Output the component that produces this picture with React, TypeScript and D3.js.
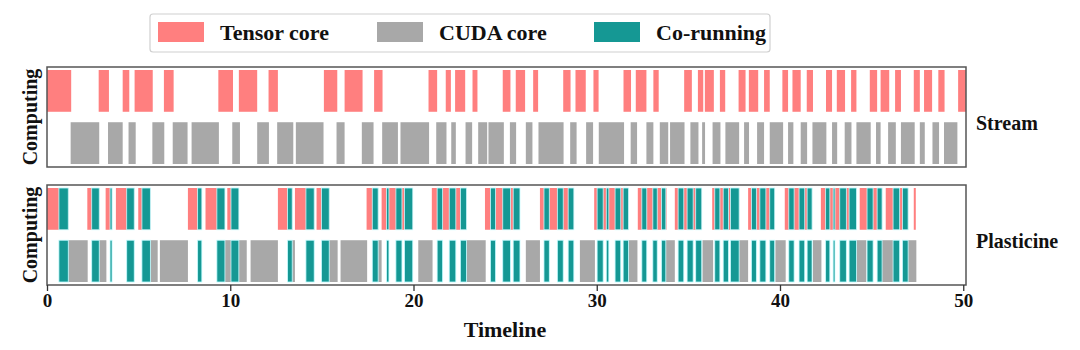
import { useEffect, useRef } from "react";
import * as d3 from "d3";

// interval data: [start, end] on the timeline
const streamTensor = [
  [0, 1.32], [2.82, 3.38], [4.13, 4.49], [4.78, 5.77], [6.38, 6.91], [9.35, 10.15], [10.47, 11.47],
  [12.09, 12.6], [15.11, 15.84], [16.24, 17.22], [17.85, 18.31], [20.82, 21.29], [21.76, 22.04],
  [22.27, 22.82], [23.22, 23.49], [24.87, 25.29], [25.58, 26.09], [26.53, 26.8], [28.17, 28.57],
  [28.84, 29.4], [29.82, 30.1], [31.46, 31.87], [32.13, 32.71], [33.09, 33.38], [34.77, 35.19],
  [35.52, 35.81], [35.9, 36.39], [36.72, 37.01], [37.74, 38.12], [38.3, 38.81], [39.13, 39.44],
  [40.13, 40.44], [40.68, 41.13], [41.46, 41.8], [42.51, 42.84], [43.1, 43.55], [43.88, 44.17],
  [44.9, 45.3], [45.49, 45.96], [46.28, 46.6], [47.3, 47.63], [47.86, 48.3], [48.64, 48.98], [49.72, 50.15],
];

const streamCuda = [
  [1.29, 2.85], [3.33, 4.13], [4.45, 4.84], [5.75, 6.4], [6.86, 7.67], [7.89, 9.38], [10.11, 10.53],
  [11.47, 12.11], [12.56, 13.44], [13.58, 15.09], [15.8, 16.24], [17.18, 17.82], [18.29, 19.15],
  [19.29, 20.85], [21.24, 21.8], [22.06, 22.31], [22.84, 23.2], [23.53, 24.02], [24.09, 24.93],
  [25.26, 25.6], [26.13, 26.49], [26.82, 28.19], [28.55, 28.9], [29.42, 29.8], [30.11, 31.49],
  [31.85, 32.2], [32.71, 33.09], [33.44, 33.9], [34.0, 34.79], [35.11, 35.55], [35.75, 35.91],
  [36.32, 36.75], [37.02, 37.77], [38.04, 38.31], [38.75, 39.13], [39.44, 40.17], [40.44, 40.73],
  [41.13, 41.48], [41.77, 42.53], [42.84, 43.12], [43.53, 43.9], [44.17, 44.95], [45.24, 45.49],
  [45.9, 46.32], [46.6, 47.35], [47.63, 47.9], [48.32, 48.68], [48.95, 49.68],
];

const plasticineTensor = [
  [0, 1.16], [2.2, 2.85], [3.2, 3.55], [3.76, 4.76], [4.98, 5.64], [7.69, 8.45], [8.65, 9.71],
  [9.84, 10.47], [12.6, 13.38], [13.53, 14.58], [14.71, 15.4], [17.44, 18.07], [18.26, 19.96],
  [21.0, 22.89], [23.9, 25.81], [26.9, 28.75], [29.86, 31.73], [32.24, 33.81], [34.26, 35.73],
  [36.3, 37.77], [38.26, 39.71], [40.26, 41.75], [42.23, 44.17], [44.35, 45.57], [45.77, 46.99],
  [47.3, 47.41],
];

const plasticineCuda = [
  [1.16, 2.22], [2.85, 3.24], [5.64, 6.04], [6.16, 7.69], [9.71, 10.04], [10.47, 10.9], [11.11, 12.6],
  [13.38, 13.53], [15.4, 15.86], [16.02, 17.47], [18.07, 18.26], [20.26, 21.04], [22.89, 23.94],
  [26.13, 26.9], [29.08, 29.9], [31.73, 32.22], [33.77, 34.26], [35.77, 36.35], [37.77, 38.26],
  [39.75, 40.31], [41.8, 42.26], [44.17, 44.71], [45.57, 46.17], [46.99, 47.44],
];

const plasticineCo = [
  [0.65, 1.16], [2.44, 2.85], [3.44, 3.55], [4.35, 4.76], [5.18, 5.64], [8.22, 8.45], [9.27, 9.71],
  [10.04, 10.47], [13.13, 13.38], [14.13, 14.58], [14.98, 15.4], [17.75, 18.07], [18.53, 18.66],
  [19.04, 19.37], [19.51, 19.96], [21.29, 21.59], [21.95, 22.31], [22.56, 22.89], [24.2, 24.48],
  [24.87, 25.29], [25.44, 25.81], [27.12, 27.41], [27.85, 28.17], [28.44, 28.75], [30.02, 30.35],
  [30.52, 30.66], [31.0, 31.31], [31.44, 31.73], [32.46, 32.73], [33.06, 33.3], [33.53, 33.77],
  [34.44, 34.75], [34.93, 35.26], [35.4, 35.73], [36.44, 36.72], [36.9, 37.19], [37.3, 37.77],
  [38.44, 38.71], [38.9, 39.23], [39.44, 39.71], [40.48, 40.77], [41.04, 41.35], [41.48, 41.75],
  [42.49, 42.72], [42.9, 43.0], [43.26, 43.62], [43.77, 44.17], [44.75, 45.08], [45.3, 45.57],
  [46.17, 46.53], [46.68, 46.99],
];

const xTicks = [0, 10, 20, 30, 40, 50];
const rows = ["tensor", "cuda"];
const legendItems = ["Tensor core", "CUDA core", "Co-running"];

const RED = "#ff7f7f";
const GRAY = "#a8a8a8";
const TEAL = "#159894";
const FONT = "'Liberation Serif', 'Times New Roman', serif";

const panels = [
  { name: "Stream", top: 67, tensor: streamTensor, cuda: streamCuda, co: [] as number[][] },
  { name: "Plasticine", top: 185, tensor: plasticineTensor, cuda: plasticineCuda, co: plasticineCo },
];
const panelH = 100;

export default function App() {
  const axisRef = useRef<SVGGElement>(null);

  const x = d3.scaleLinear().domain([0, 50.15]).range([47, 966]);
  const y = d3.scaleBand().domain(rows).range([3, 97]).paddingInner(0.2);
  const legendColor = d3.scaleOrdinal<string>().domain(legendItems).range([RED, GRAY, TEAL]);

  useEffect(() => {
    const axis = d3.axisBottom(x).tickValues(xTicks).tickSize(6).tickPadding(3);
    const g = d3.select(axisRef.current);
    g.call(axis);
    g.select(".domain").remove();
    g.selectAll(".tick line").attr("stroke", "#333").attr("stroke-width", 1.3);
    g.selectAll(".tick text")
      .attr("font-family", FONT)
      .attr("font-weight", "bold")
      .attr("font-size", 19)
      .attr("fill", "#111");
  }, []);

  const bars = (data: number[][], row: string, color: string, key: string, stroke?: string) =>
    data.map((d, i) => (
      <rect
        key={key + i}
        x={x(d[0])}
        y={y(row)}
        width={Math.max(0.8, x(d[1]) - x(d[0]))}
        height={y.bandwidth()}
        fill={color}
        stroke={stroke || "none"}
        strokeWidth={stroke ? 0.8 : 0}
      />
    ));

  return (
    <svg
      width={1080}
      height={350}
      style={{ position: "absolute", left: 0, top: 0, background: "#fff" }}
      fontFamily={FONT}
    >
      {/* legend */}
      <rect x={150} y={14} width={620} height={38} rx={3} fill="#fff" stroke="#d0d0d0" strokeWidth={1.2} />
      {legendItems.map((name, i) => {
        const lx = [158, 377, 594][i];
        return (
          <g key={name}>
            <rect x={lx} y={22} width={46} height={20} fill={legendColor(name)} />
            <text x={lx + 62} y={39.5} fontSize={22} fontWeight="bold" fill="#111">
              {name}
            </text>
          </g>
        );
      })}

      {panels.map((p) => (
        <g key={p.name} transform={`translate(0, ${p.top})`}>
          {bars(p.tensor, "tensor", RED, "t")}
          {bars(p.cuda, "cuda", GRAY, "c")}
          {bars(p.co, "tensor", TEAL, "ct", "#c4fbff")}
          {bars(p.co, "cuda", TEAL, "cc", "#c4fbff")}
          <rect x={47} y={0} width={919} height={panelH} fill="none" stroke="#555" strokeWidth={1.5} />
          <text
            transform={`translate(37, ${panelH / 2}) rotate(-90)`}
            textAnchor="middle"
            fontSize={20}
            fontWeight="bold"
            fill="#111"
          >
            Computing
          </text>
          <text x={976} y={panelH / 2 + 13} fontSize={20} fontWeight="bold" fill="#111">
            {p.name}
          </text>
        </g>
      ))}

      <g ref={axisRef} transform={`translate(0, ${185 + panelH})`} />
      <text x={505} y={337} textAnchor="middle" fontSize={22} fontWeight="bold" fill="#111">
        Timeline
      </text>
    </svg>
  );
}
